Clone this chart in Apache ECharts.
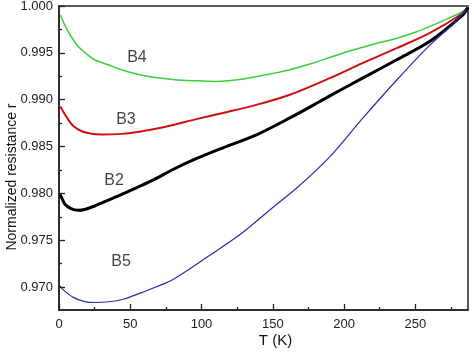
<!DOCTYPE html>
<html><head><meta charset="utf-8">
<script src="https://cdn.jsdelivr.net/npm/echarts@6/dist/echarts.min.js"></script>
<style>html,body{margin:0;padding:0;background:#fff}#c{width:474px;height:355px}</style>
</head><body><div id="c"></div>
<script>
// ---- data ----
const b4T = [1, 3, 6.5, 10, 13.5, 20, 25, 35, 44, 53, 63, 72, 81, 95, 110, 125, 139, 150, 162, 176, 190, 205, 220, 237, 250, 260, 272, 283, 287];
const b4R = [0.99904, 0.9983, 0.99727, 0.9964, 0.99567, 0.9948, 0.99426, 0.9937, 0.99319, 0.9928, 0.99248, 0.9923, 0.99213, 0.99202, 0.99195, 0.99212, 0.99248, 0.9928, 0.99319, 0.9938, 0.9945, 0.99525, 0.9959, 0.99656, 0.9972, 0.9978, 0.9986, 0.9994, 0.99995];

const b3T = [1, 3, 6.5, 10, 16, 22, 30, 44, 55, 67, 80, 95, 115, 139, 162, 190, 213, 237, 260, 283, 287];
const b3R = [0.98929, 0.9887, 0.98787, 0.9872, 0.98663, 0.98638, 0.98628, 0.98635, 0.98655, 0.98688, 0.9873, 0.98787, 0.98858, 0.98947, 0.99053, 0.9923, 0.9939, 0.9955, 0.9971, 0.9992, 0.99985];

const b2T = [0.7, 2, 4.2, 8, 13.5, 18, 25, 35, 44, 55, 67, 80, 95, 115, 139, 162, 183, 190, 213, 237, 260, 283, 287];
const b2R = [0.97989, 0.9795, 0.97883, 0.9784, 0.97819, 0.97828, 0.97865, 0.9793, 0.97989, 0.98065, 0.98149, 0.98255, 0.98362, 0.98486, 0.98628, 0.98805, 0.9898, 0.9904, 0.9923, 0.99426, 0.9962, 0.9990, 0.99985];

const b5T = [0.7, 3, 10, 18, 25, 35, 45, 57, 68, 80, 104, 127, 150, 167, 190, 213, 237, 260, 276, 286];
const b5R = [0.97014, 0.9697, 0.9689, 0.96845, 0.96835, 0.96843, 0.9687, 0.96935, 0.9700, 0.9708, 0.9732, 0.9756, 0.9785, 0.9806, 0.9839, 0.9880, 0.9921, 0.9958, 0.9980, 0.9996];

const xMajorTicks = [0, 50, 100, 150, 200, 250];
const xMinorTicks = [25, 75, 125, 175, 225, 275];
const yMajorTicks = [0.970, 0.975, 0.980, 0.985, 0.990, 0.995, 1.000];
const yMinorTicks = [0.9725, 0.9775, 0.9825, 0.9875, 0.9925, 0.9975];

const seriesNames = ['B4', 'B3', 'B2', 'B5'];
const labelT = [54.7, 47, 38.6, 43.5];
const labelR = [0.99447, 0.98787, 0.98138, 0.97277];

// ---- chart ----
const zip = (a, b) => a.map((v, i) => [v, b[i]]);
const FONT = '"Liberation Sans", Arial, sans-serif';
const axisBase = {
  type: 'value',
  splitLine: { show: false },
};
const chart = echarts.init(document.getElementById('c'), null, { renderer: 'canvas' });
const lines = [
  { d: zip(b4T, b4R), color: '#3ccf3c', w: 1.5 },
  { d: zip(b3T, b3R), color: '#cc1010', w: 2 },
  { d: zip(b2T, b2R), color: '#000000', w: 3 },
  { d: zip(b5T, b5R), color: '#2b2ba6', w: 1.2 },
];
const series = lines.map((l, i) => ({
  name: seriesNames[i],
  type: 'line',
  data: l.d,
  showSymbol: false,
  smooth: 0.3,
  lineStyle: { color: l.color, width: l.w },
  silent: true,
  z: 2,
}));
series.push({
  type: 'scatter',
  data: labelT.map((t, i) => [t, labelR[i], seriesNames[i]]),
  symbolSize: 0,
  label: {
    show: true, position: 'inside', formatter: p => p.data[2],
    color: '#111', fontSize: 16, fontFamily: FONT,
  },
  silent: true,
});

chart.setOption({
  animation: false,
  grid: { left: 59, right: 6, top: 6, bottom: 45, containLabel: false, outerBoundsMode: 'none', show: true, borderColor: '#222', borderWidth: 1.5, backgroundColor: 'transparent' },
  xAxis: [
    Object.assign({}, axisBase, {
      min: 0, max: 287,
      name: 'T (K)', nameLocation: 'middle', nameGap: 23, nameMoveOverlap: false,
      nameTextStyle: { fontSize: 15, color: '#111', fontFamily: FONT, padding: [0, 0, 0, 24] },
      axisLine: { show: true, lineStyle: { color: '#222', width: 1.5 } },
      axisTick: { show: true, inside: true, length: 6, customValues: xMajorTicks, lineStyle: { color: '#222', width: 1.3 } },
      axisLabel: { customValues: xMajorTicks, margin: 8, fontSize: 13, color: '#222', fontFamily: FONT },
    }),
    Object.assign({}, axisBase, {
      min: 0, max: 287, position: 'bottom',
      axisLine: { show: false },
      axisTick: { show: true, inside: true, length: 3, customValues: xMinorTicks, lineStyle: { color: '#222', width: 1.3 } },
      axisLabel: { show: false },
    }),
  ],
  yAxis: [
    Object.assign({}, axisBase, {
      min: 0.96755, max: 1.0,
      name: 'Normalized resistance r', nameLocation: 'middle', nameGap: 40, nameMoveOverlap: false,
      nameTextStyle: { fontSize: 14, color: '#111', fontFamily: FONT, padding: [0, 38, 0, 0] },
      axisLine: { show: true, lineStyle: { color: '#222', width: 1.5 } },
      axisTick: { show: true, inside: true, length: 6, customValues: yMajorTicks, lineStyle: { color: '#222', width: 1.3 } },
      axisLabel: { customValues: yMajorTicks, margin: 6, fontSize: 13, color: '#222', fontFamily: FONT, formatter: v => v.toFixed(3) },
    }),
    Object.assign({}, axisBase, {
      min: 0.96755, max: 1.0, position: 'left',
      axisLine: { show: false },
      axisTick: { show: true, inside: true, length: 3, customValues: yMinorTicks, lineStyle: { color: '#222', width: 1.3 } },
      axisLabel: { show: false },
    }),
  ],
  series: series,
});
</script>
</body></html>
